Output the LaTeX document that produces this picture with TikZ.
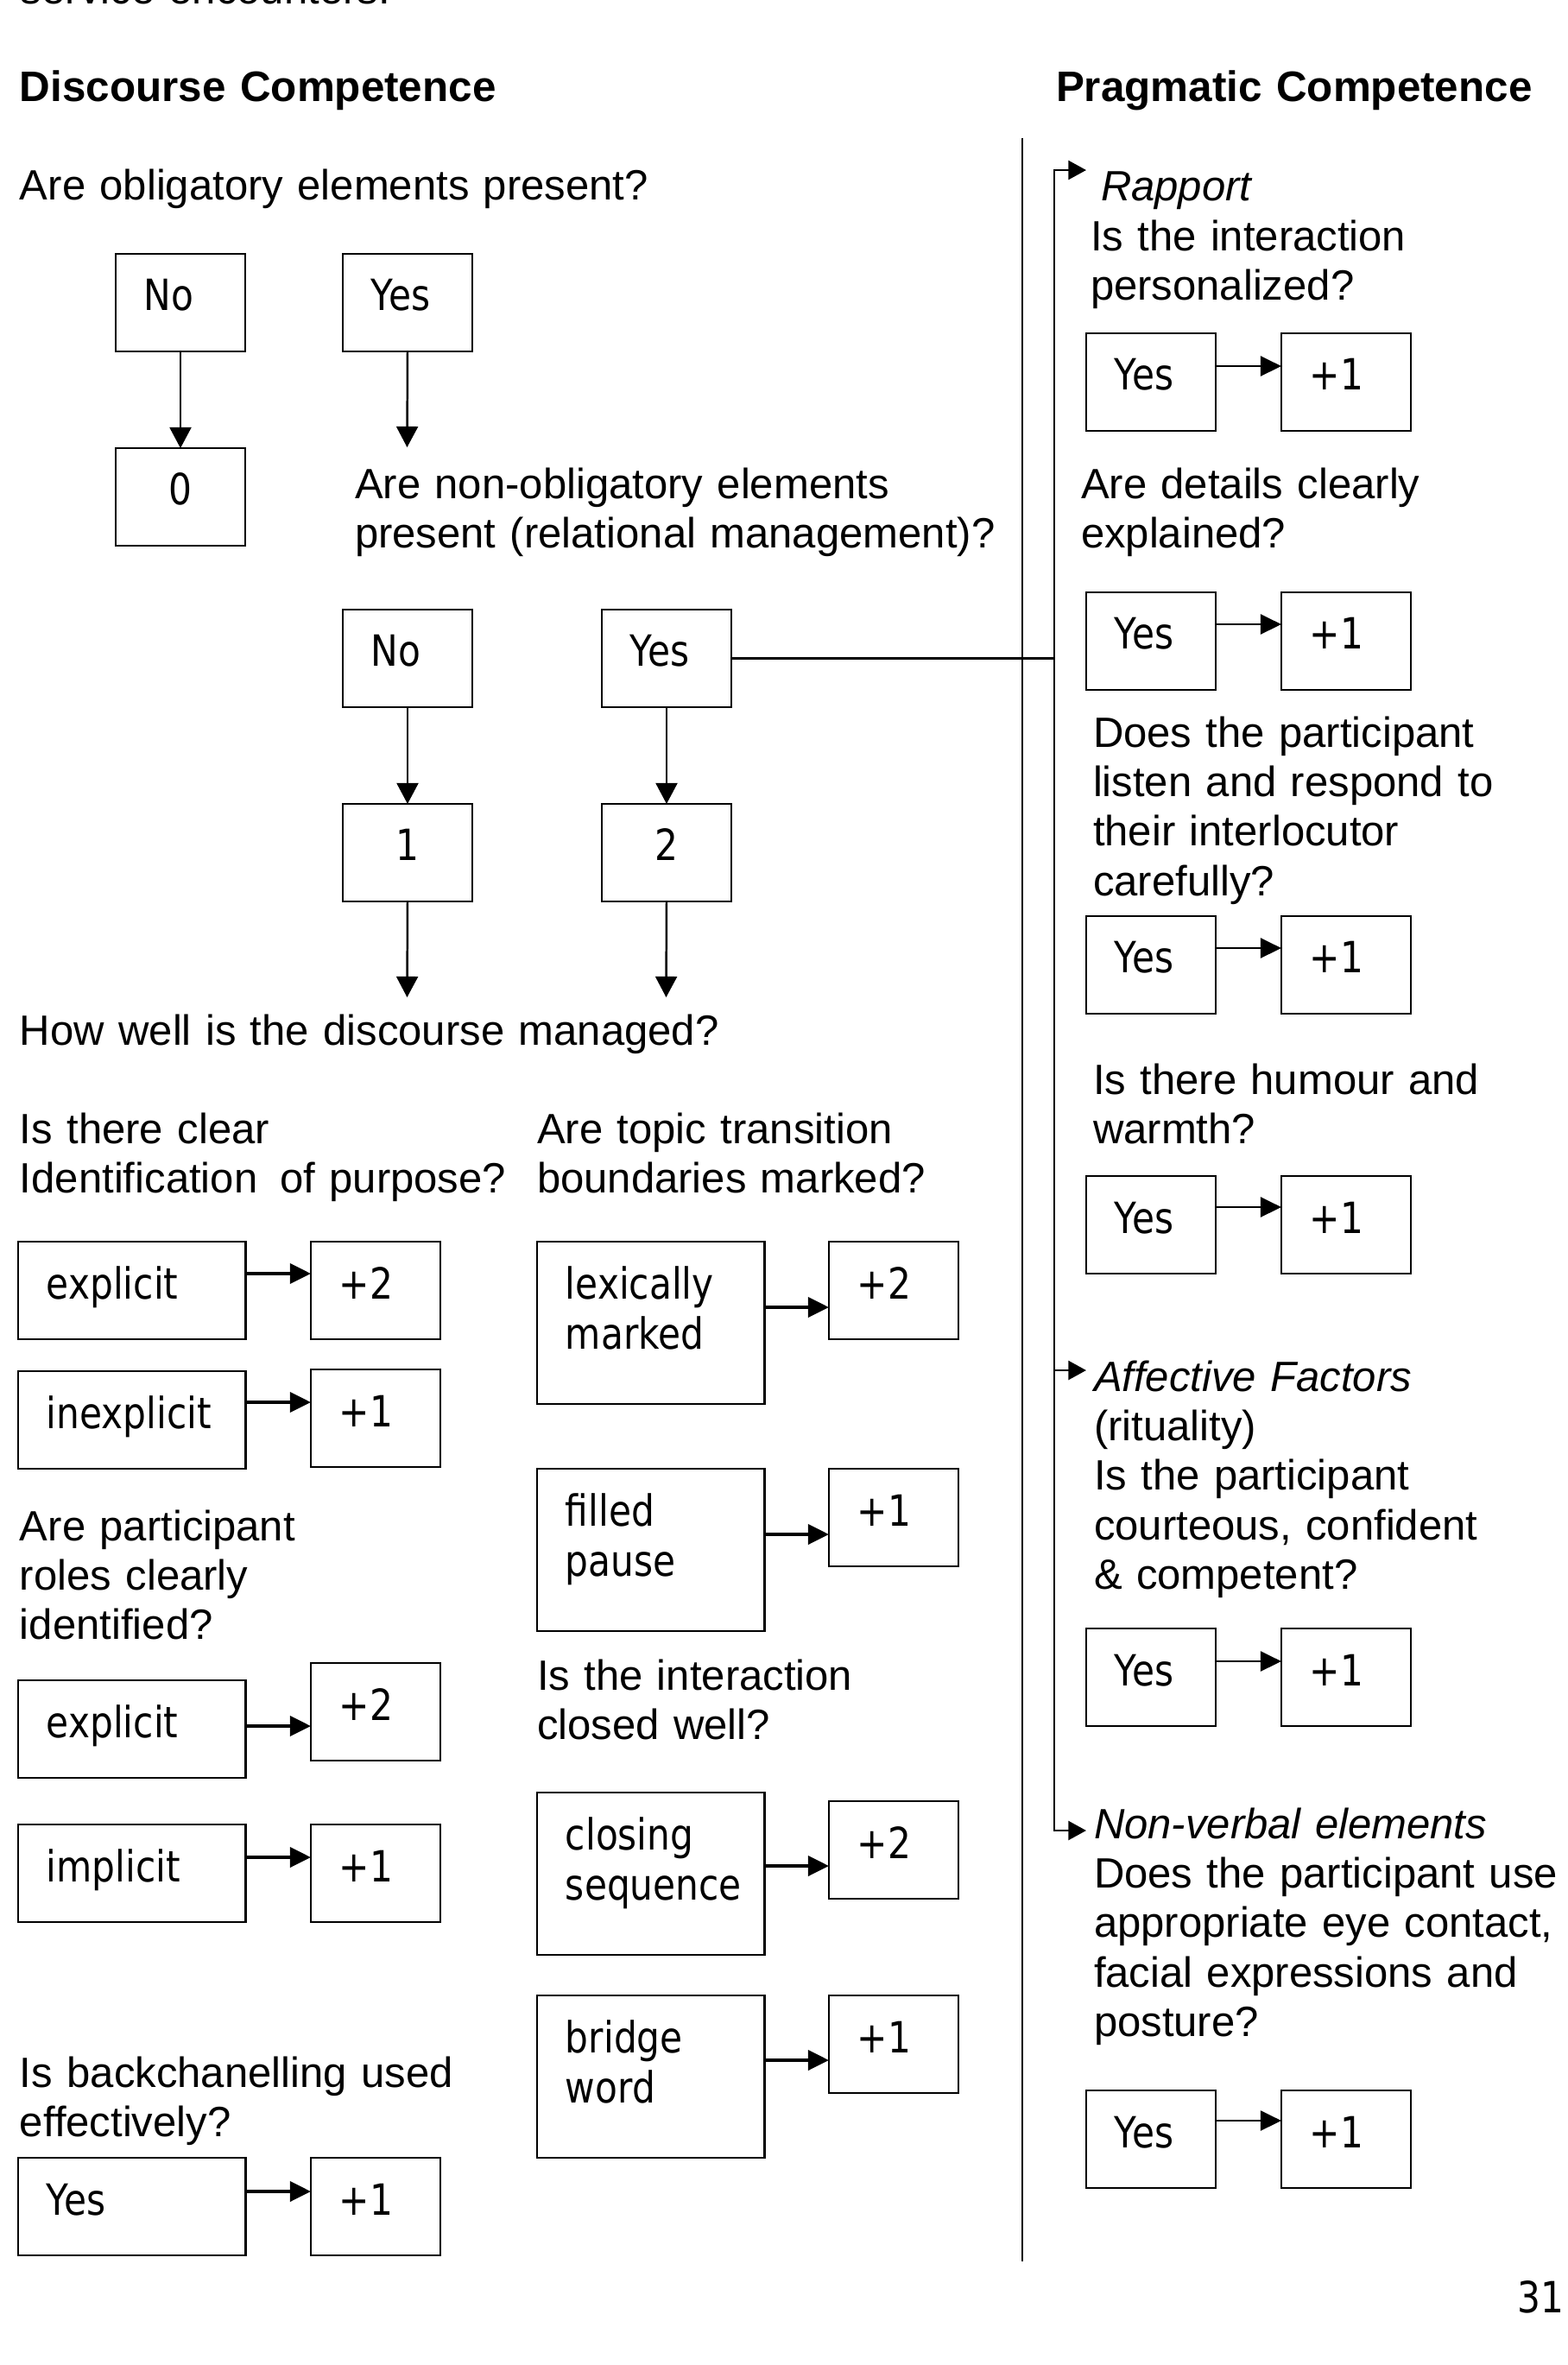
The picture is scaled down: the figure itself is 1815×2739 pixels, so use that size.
\documentclass[tikz,border=0pt]{standalone}
\usepackage{fontspec}
\setmainfont{Liberation Sans}
\newfontfamily\boxfont[FakeStretch=0.85]{DejaVu Sans}
\usetikzlibrary{arrows.meta,calc}
\tikzset{
  bx/.style={draw, line width=0.7pt, rectangle, anchor=north west, inner xsep=7.95pt, inner ysep=0pt, outer sep=0pt, font=\boxfont\fontsize{12}{14.2}\selectfont, align=left, text height=15.9pt},
  sbx/.style={bx, text width=20.25pt, text depth=11.33pt},
  cbx/.style={sbx, align=center},
  lbx/.style={bx, text width=47.7pt, text depth=11.33pt},
  tbx/.style={bx, text width=47.7pt, text depth=29.4pt},
  q/.style={anchor=base west, inner sep=0pt, outer sep=0pt, align=left, text width=250pt, font=\fontsize{11.82}{13.85}\selectfont},
  qb/.style={q, font=\bfseries\fontsize{11.9}{13.85}\selectfont},
  qi/.style={q, font=\itshape\fontsize{11.82}{13.85}\selectfont},
  darr/.style={line width=0.6pt, -{Triangle[length=5.8pt,width=6pt]}},
  larr/.style={line width=1pt, -{Triangle[length=5.8pt,width=5.5pt]}},
  rarr/.style={line width=0.7pt, -{Triangle[length=5.8pt,width=5.5pt]}},
  barr/.style={line width=0.65pt, -{Triangle[length=5pt,width=5.3pt]}},
  bbarr/.style={line width=0.65pt, {Triangle[length=5pt,width=5.3pt]}-{Triangle[length=5pt,width=5.3pt]}},
  vline/.style={line width=0.65pt},
}
\begin{document}
\begin{tikzpicture}[x=0.241pt,y=-0.241pt]
\useasboundingbox (0,0) rectangle (1815,2739);
% ---------- headings ----------
\node[q] (svc) at (24,4) {service encounters.};
\node[qb] (hDisc) at (23,117) {Discourse Competence};
\node[qb] (hPrag) at (1223,117) {Pragmatic Competence};
% ---------- discourse: top ----------
\node[q] (qObl) at (23,231) {Are obligatory elements present?};
\node[sbx] (bNo) at (134,294) {No};
\node[sbx] (bYes) at (397,294) {Yes};
\node[cbx] (b0) at (134,519) {0};
\node[q] (qNon) at (411,577) {Are non-obligatory elements\\present (relational management)?};
\coordinate (cNon) at (471.5,518);
\node[sbx] (bNo2) at (397,706) {No};
\node[sbx] (bYes2) at (697,706) {Yes};
\node[cbx] (b1) at (397,931) {1};
\node[cbx] (b2) at (697,931) {2};
\coordinate (cHow1) at (471.5,1155);
\coordinate (cHow2) at (771.5,1155);
\node[q] (qHow) at (23,1210) {How well is the discourse managed?};
\draw[darr] (bNo.south) -- (b0.north);
\draw[darr] (bYes.south) -- (cNon);
\draw[darr] (bNo2.south) -- (b1.north);
\draw[darr] (bYes2.south) -- (b2.north);
\draw[darr] (b1.south) -- (cHow1);
\draw[darr] (b2.south) -- (cHow2);
% ---------- discourse: left column ----------
\node[q] (qPurp) at (23,1324) {Is there clear\\Identification\hspace{2.3pt} of purpose?};
\node[lbx] (bEx1) at (21,1438) {explicit};
\node[sbx] (p21) at (360,1438) {+2};
\node[lbx] (bInex) at (21,1588) {inexplicit};
\node[sbx] (p11) at (360,1586) {+1};
\node[q] (qRoles) at (23,1784) {Are participant\\roles clearly\\identified?};
\node[lbx] (bEx2) at (21,1946) {explicit};
\node[sbx] (p22) at (360,1926) {+2};
\node[lbx] (bImp) at (21,2113) {implicit};
\node[sbx] (p12) at (360,2113) {+1};
\node[q] (qBack) at (23,2417) {Is backchanelling used\\effectively?};
\node[lbx] (bBack) at (21,2499) {Yes};
\node[sbx] (p13) at (360,2499) {+1};
\draw[larr] ($(bEx1.north east)+(0,37)$) coordinate (s1) -- (s1 -| p21.west);
\draw[larr] ($(bInex.north east)+(0,36)$) coordinate (s2) -- (s2 -| p11.west);
\draw[larr] ($(bEx2.north east)+(0,53)$) coordinate (s3) -- (s3 -| p22.west);
\draw[larr] ($(bImp.north east)+(0,38)$) coordinate (s4) -- (s4 -| p12.west);
\draw[larr] ($(bBack.north east)+(0,39)$) coordinate (s5) -- (s5 -| p13.west);
% ---------- discourse: middle column ----------
\node[q] (qTopic) at (622,1324) {Are topic transition\\boundaries marked?};
\node[tbx] (bLex) at (622,1438) {lexically\\marked};
\node[sbx] (p23) at (960,1438) {+2};
\node[tbx] (bFill) at (622,1701) {filled\\pause};
\node[sbx] (p14) at (960,1701) {+1};
\node[q] (qClosed) at (622,1957) {Is the interaction\\closed well?};
\node[tbx] (bClos) at (622,2076) {closing\\sequence};
\node[sbx] (p24) at (960,2086) {+2};
\node[tbx] (bBrid) at (622,2311) {bridge\\word};
\node[sbx] (p15) at (960,2311) {+1};
\draw[larr] ($(bLex.north east)+(0,76)$) coordinate (m1) -- (m1 -| p23.west);
\draw[larr] ($(bFill.north east)+(0,76)$) coordinate (m2) -- (m2 -| p14.west);
\draw[larr] ($(bClos.north east)+(0,85)$) coordinate (m3) -- (m3 -| p24.west);
\draw[larr] ($(bBrid.north east)+(0,75)$) coordinate (m4) -- (m4 -| p15.west);
% ---------- dividing line and branch ----------
\coordinate (vTop) at (1184,160);
\coordinate (vBot) at (1184,2619);
\draw[vline] (vTop) -- (vBot);
\coordinate (brTop) at (1221,197);
\coordinate (brAff) at (1221,1587);
\coordinate (brBot) at (1221,2120);
\coordinate (tRap) at (1258,197);
\coordinate (tAff) at (1258,1587);
\coordinate (tNon) at (1258,2120);
\draw[vline] (bYes2.east) -- (bYes2.east -| brTop);
\draw[bbarr] (tRap) -- (brTop) -- (brBot) -- (tNon);
\draw[barr] (brAff) -- (tAff);
% ---------- pragmatic column ----------
\node[qi] (tRapport) at (1275,232) {Rapport};
\node[q] (qPers) at (1263,290) {Is the interaction\\personalized?};
\node[sbx] (rY1) at (1258,386) {Yes};
\node[sbx] (rP1) at (1484,386) {+1};
\node[q] (qDet) at (1252,577) {Are details clearly\\explained?};
\node[sbx] (rY2) at (1258,686) {Yes};
\node[sbx] (rP2) at (1484,686) {+1};
\node[q] (qList) at (1266,865) {Does the participant\\listen and respond to\\their interlocutor\\carefully?};
\node[sbx] (rY3) at (1258,1061) {Yes};
\node[sbx] (rP3) at (1484,1061) {+1};
\node[q] (qHum) at (1266,1267) {Is there humour and\\warmth?};
\node[sbx] (rY4) at (1258,1362) {Yes};
\node[sbx] (rP4) at (1484,1362) {+1};
\node[q] (qAff) at (1267,1611) {\textit{Affective Factors}\\(rituality)\\Is the participant\\courteous, confident\\\& competent?};
\node[sbx] (rY5) at (1258,1886) {Yes};
\node[sbx] (rP5) at (1484,1886) {+1};
\node[q] (qNv) at (1267,2129) {\textit{Non-verbal elements}\\Does the participant use\\appropriate eye contact,\\facial expressions and\\posture?};
\node[sbx] (rY6) at (1258,2421) {Yes};
\node[sbx] (rP6) at (1484,2421) {+1};
\draw[rarr] ($(rY1.north east)+(0,38)$) coordinate (r1) -- (r1 -| rP1.west);
\draw[rarr] ($(rY2.north east)+(0,37)$) coordinate (r2) -- (r2 -| rP2.west);
\draw[rarr] ($(rY3.north east)+(0,37)$) coordinate (r3) -- (r3 -| rP3.west);
\draw[rarr] ($(rY4.north east)+(0,36)$) coordinate (r4) -- (r4 -| rP4.west);
\draw[rarr] ($(rY5.north east)+(0,38)$) coordinate (r5) -- (r5 -| rP5.west);
\draw[rarr] ($(rY6.north east)+(0,35)$) coordinate (r6) -- (r6 -| rP6.west);
% ---------- page number ----------
\node[anchor=base west, inner sep=0pt, font=\boxfont\fontsize{12}{14}\selectfont] (pg) at (1757,2678) {31};
\end{tikzpicture}
\end{document}
